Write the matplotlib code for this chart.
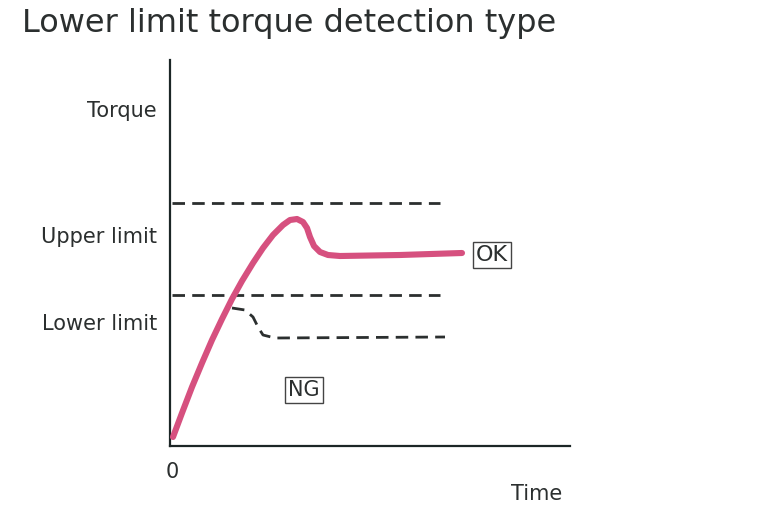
import matplotlib
matplotlib.use("Agg")
import matplotlib.pyplot as plt

# ---- data (time / torque in arbitrary units, origin at the axes corner) ----
ok_time = [3, 12, 22, 32, 42, 52, 62, 72, 83, 93, 103, 113, 120, 127, 133, 137, 140,
           144, 150, 158, 170, 230, 292]
ok_torque = [9, 33, 59, 83, 106, 127, 147, 165, 183, 198, 211, 221, 226, 227, 224, 218,
             209, 200, 194, 191, 190, 191, 193]
ng_time = [62, 75, 83, 88, 93, 105, 275]
ng_torque = [138, 136, 129, 119, 111, 108, 109]
upper_limit = 243
lower_limit = 151.5
limit_span = [2, 270]

INK = "#2b2f2f"
RED = "#d6507f"
W, H = 768, 507

fig = plt.figure(figsize=(W / 100, H / 100), dpi=100)
fig.patch.set_facecolor("white")

# overlay in pixel coords for free text
ov = fig.add_axes([0, 0, 1, 1])
ov.set_xlim(0, W); ov.set_ylim(H, 0); ov.axis("off")

# chart axes
ax = fig.add_axes([170 / W, (H - 446) / H, 400 / W, 386 / H])
ax.patch.set_alpha(0)
ax.set_xlim(0, 400); ax.set_ylim(0, 386)
ax.set_xticks([]); ax.set_yticks([])
for s in ["top", "right"]:
    ax.spines[s].set_visible(False)
for s in ["left", "bottom"]:
    ax.spines[s].set_linewidth(1.6)
    ax.spines[s].set_color("#1c2626")

dash = (0, (4.5, 2.6))
ax.plot(limit_span, [upper_limit] * 2, color=INK, lw=2, linestyle=dash, clip_on=False)
ax.plot(limit_span, [lower_limit] * 2, color=INK, lw=2, linestyle=dash, clip_on=False)
ax.plot(ng_time, ng_torque, color=INK, lw=2, linestyle=dash, clip_on=False)
ax.plot(ok_time, ok_torque, color=RED, lw=4.4, solid_capstyle="round",
        solid_joinstyle="round", zorder=5, clip_on=False)

fs = 15
ov.text(22, 32, "Lower limit torque detection type", fontsize=23, color=INK,
        ha="left", va="baseline")
ov.text(157, 117, "Torque", fontsize=fs, color=INK, ha="right", va="baseline")
ov.text(157, 243, "Upper limit", fontsize=fs, color=INK, ha="right", va="baseline")
ov.text(157, 330, "Lower limit", fontsize=fs, color=INK, ha="right", va="baseline")
ov.text(172, 478, "0", fontsize=fs, color=INK, ha="center", va="baseline")
ov.text(537, 500, "Time", fontsize=fs, color=INK, ha="center", va="baseline")

box = dict(boxstyle="square,pad=0.15", fc="white", ec="#444444", lw=1.0)
ov.text(492, 255, "OK", fontsize=16, color=INK, ha="center", va="center", bbox=box)
ov.text(304, 390, "NG", fontsize=15, color=INK, ha="center", va="center", bbox=box)

fig.savefig("out.png", dpi=100, facecolor="white")
